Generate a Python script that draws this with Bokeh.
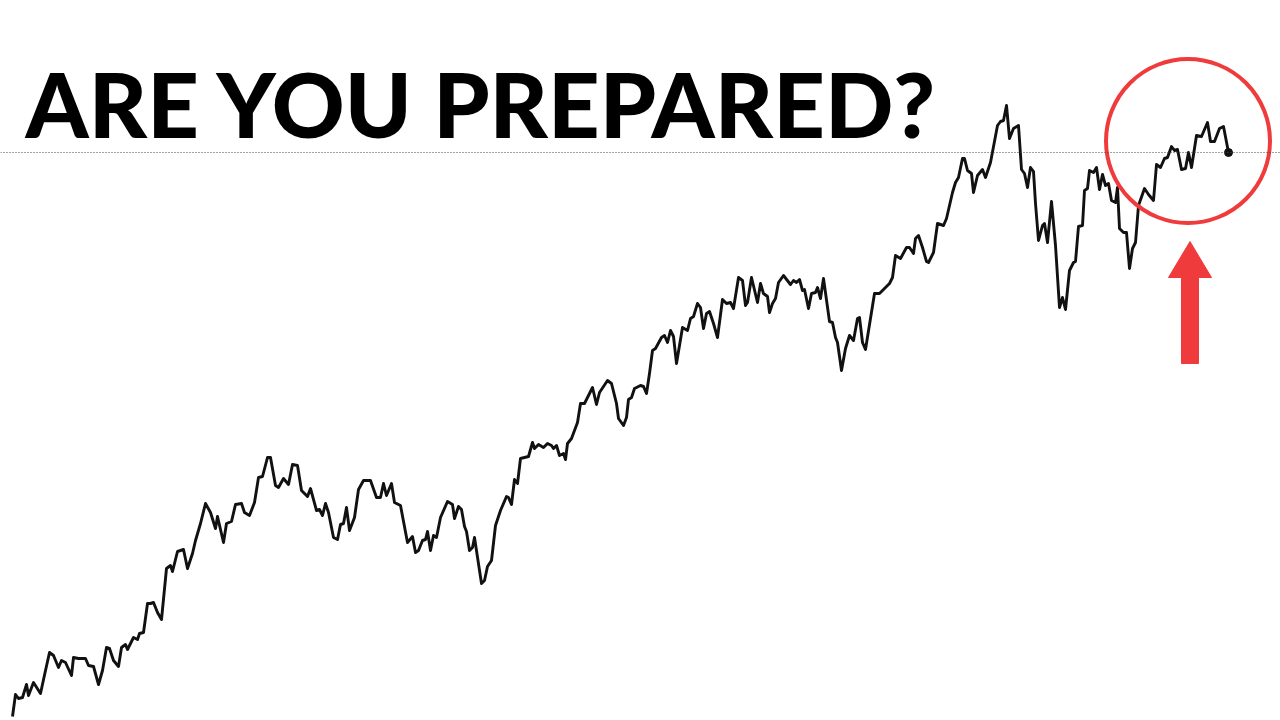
from bokeh.plotting import figure
from bokeh.models import Range1d, Label, Span
from bokeh.embed import file_html
from bokeh.resources import INLINE

title_text = "ARE YOU PREPARED?"

week = [12, 15, 18, 22, 26, 28, 33, 40, 45, 49, 53, 58, 61, 65, 71, 73, 78, 85, 88, 93,
        98, 102, 106, 109, 113, 118, 121, 125, 127, 133, 137, 139, 143, 147, 150, 153, 157, 161, 166, 170,
        172, 177, 183, 187, 192, 195, 200, 205, 210, 215, 217, 223, 226, 231, 235, 241, 244, 249, 254, 258,
        262, 267, 270, 275, 278, 283, 288, 292, 297, 301, 307, 310, 316, 319, 322, 325, 328, 333, 337, 340,
        343, 346, 349, 354, 358, 363, 370, 376, 380, 383, 386, 391, 394, 400, 407, 412, 415, 418, 422, 425,
        427, 430, 433, 436, 440, 447, 452, 454, 458, 461, 464, 466, 469, 472, 474, 481, 484, 487, 491, 495,
        500, 506, 508, 511, 514, 517, 520, 528, 532, 534, 538, 543, 547, 551, 553, 556, 559, 563, 565, 567,
        571, 577, 580, 584, 592, 596, 599, 607, 611, 616, 618, 623, 626, 628, 631, 634, 640, 643, 646, 649,
        652, 655, 661, 664, 667, 670, 673, 676, 682, 687, 690, 693, 697, 700, 703, 706, 709, 713, 717, 722,
        726, 730, 733, 738, 742, 745, 747, 751, 757, 760, 763, 767, 769, 772, 775, 778, 783, 790, 793, 796,
        799, 802, 804, 808, 811, 815, 817, 820, 823, 829, 832, 835, 837, 841, 845, 849, 853, 857, 859, 862,
        865, 874, 879, 884, 889, 892, 895, 900, 906, 909, 913, 915, 918, 922, 926, 928, 933, 937, 943, 946,
        952, 955, 958, 962, 964, 967, 971, 973, 977, 982, 985, 990, 997, 1000, 1003, 1006, 1009, 1013, 1018, 1021,
        1024, 1027, 1030, 1033, 1035, 1038, 1042, 1044, 1047, 1051, 1055, 1059, 1062, 1065, 1069, 1073, 1075, 1078, 1082, 1084,
        1087, 1089, 1093, 1096, 1099, 1102, 1105, 1108, 1111, 1115, 1117, 1119, 1123, 1126, 1129, 1132, 1135, 1138, 1144, 1148,
        1153, 1156, 1160, 1164, 1167, 1171, 1174, 1177, 1181, 1185, 1188, 1191, 1196, 1201, 1207, 1210, 1214, 1219, 1223, 1228]

level = [4, 26, 22, 23, 36, 25, 38, 27, 50, 68, 65, 53, 60, 58, 45, 63, 62, 62, 55, 54,
         36, 50, 73, 72, 60, 54, 73, 76, 71, 83, 81, 87, 88, 117, 117, 118, 108, 101, 152, 155,
         149, 169, 171, 152, 167, 180, 197, 217, 208, 192, 204, 178, 197, 199, 216, 217, 208, 205, 218, 243,
         244, 263, 263, 235, 233, 242, 236, 256, 255, 230, 224, 232, 210, 211, 205, 217, 208, 183, 181, 196,
         197, 213, 190, 203, 231, 240, 240, 223, 223, 237, 225, 237, 218, 215, 178, 184, 168, 170, 180, 181,
         189, 170, 185, 183, 203, 219, 216, 202, 214, 211, 194, 189, 170, 173, 183, 137, 140, 154, 160, 195,
         210, 224, 223, 216, 241, 237, 262, 264, 278, 272, 276, 273, 277, 275, 272, 275, 265, 267, 261, 277,
         282, 298, 317, 317, 333, 316, 328, 340, 337, 317, 302, 295, 303, 321, 323, 332, 335, 334, 327, 347,
         370, 372, 383, 385, 378, 390, 384, 357, 393, 390, 402, 404, 417, 413, 392, 407, 409, 397, 383, 421,
         417, 418, 412, 443, 440, 415, 418, 443, 418, 437, 427, 424, 408, 417, 422, 438, 445, 436, 440, 438,
         441, 430, 431, 412, 427, 428, 433, 422, 442, 399, 398, 383, 378, 350, 372, 385, 380, 402, 403, 378,
         371, 427, 427, 432, 437, 443, 465, 462, 473, 473, 467, 482, 485, 473, 459, 458, 468, 497, 495, 502,
         528, 538, 543, 562, 562, 550, 547, 528, 545, 551, 543, 558, 595, 599, 600, 615, 582, 592, 595, 551,
         547, 533, 553, 549, 517, 480, 495, 497, 478, 519, 475, 413, 423, 411, 450, 458, 459, 494, 495, 530,
         532, 550, 548, 553, 531, 546, 535, 537, 520, 518, 533, 492, 488, 488, 452, 472, 478, 515, 532, 526,
         520, 556, 553, 562, 563, 574, 570, 571, 551, 552, 568, 553, 585, 584, 598, 579, 579, 592, 594, 568]

RED = "#EF3B3B"

p = figure(width=1280, height=720, output_backend="svg", toolbar_location=None,
           x_range=Range1d(0, 1280), y_range=Range1d(0, 720),
           min_border=0, min_border_left=0, min_border_right=0,
           min_border_top=0, min_border_bottom=0)
p.axis.visible = False
p.grid.visible = False
p.outline_line_color = None
p.background_fill_color = "white"
p.border_fill_color = "white"

# dotted reference line at the last value
p.add_layout(Span(location=level[-1], dimension="width", line_color="#444444",
                  line_width=1, line_dash="1 2"))

p.line(week, level, line_color="#111111", line_width=2.9, line_join="round")
p.scatter([week[-1]], [level[-1]], size=8, color="#111111")

# red highlight circle around the latest values
p.circle(x=[1187.5], y=[579.5], radius=82, fill_color=None, line_color=RED, line_width=4)

# red up arrow
p.patch([1181, 1198, 1198, 1211, 1189.5, 1168, 1181],
        [357, 357, 443, 443, 479, 443, 443], fill_color=RED, line_color=RED, line_width=1)

p.add_layout(Label(x=25, y=618, text=title_text, text_font="Lato Black",
                   text_font_style="bold", text_font_size="90px", text_color="#000000",
                   text_baseline="alphabetic", text_align="left"))

open("out.html", "w").write(file_html(p, INLINE))
